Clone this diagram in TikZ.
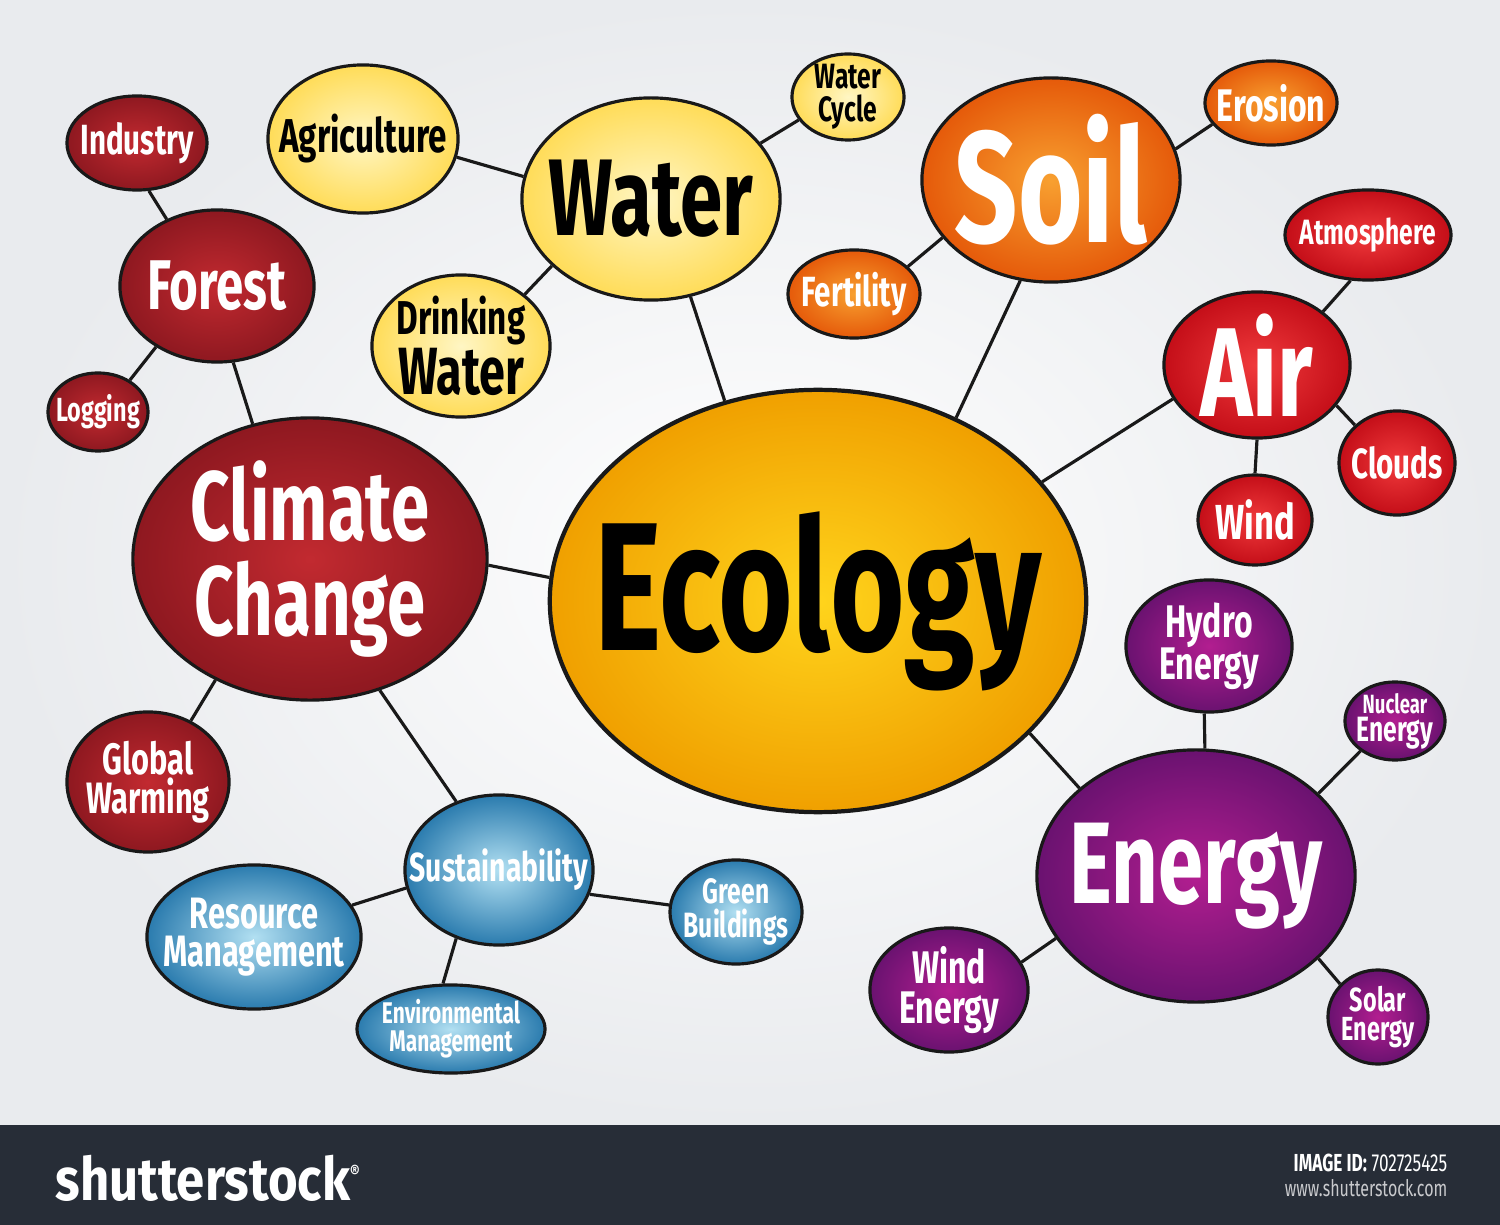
\documentclass[tikz,border=0pt]{standalone}
\usepackage{fontspec}
\usetikzlibrary{shapes.geometric}
\newfontfamily\hand[FakeStretch=0.7]{Fira Sans}
\newfontfamily\logofont[FakeStretch=0.85]{Fira Sans}

\definecolor{crimOut}{HTML}{8E1820}
\definecolor{crimIn}{HTML}{C22A30}
\definecolor{airOut}{HTML}{C40E18}
\definecolor{airIn}{HTML}{F03A3C}
\definecolor{soilOut}{HTML}{E55A0A}
\definecolor{soilIn}{HTML}{F8A030}
\definecolor{waterOut}{HTML}{FFDC58}
\definecolor{waterIn}{HTML}{FFF6C4}
\definecolor{ecoOut}{HTML}{F0A000}
\definecolor{ecoIn}{HTML}{FFD41C}
\definecolor{nrgOut}{HTML}{6A1270}
\definecolor{nrgIn}{HTML}{B21E90}
\definecolor{blueOut}{HTML}{2A7BAE}
\definecolor{blueIn}{HTML}{B2E0F2}
\definecolor{bgEdge}{HTML}{E9EBEE}
\definecolor{footer}{HTML}{272D37}

\newcommand{\fs}[2]{\hand\bfseries\fontsize{#1}{#2}\selectfont}

\tikzset{
  bubble/.style={ellipse, draw=black!90, line width=0.9pt, inner sep=0pt},
  rad/.style 2 args={minimum width=#1*0.02cm, minimum height=#2*0.02cm},
  lbl/.style 2 args={label={[font={#1}, align=center, inner sep=0pt, text=white]center:{#2}}},
  lblk/.style 2 args={label={[font={#1}, align=center, inner sep=0pt, text=black]center:{#2}}},
  crimson/.style={bubble, inner color=crimIn, outer color=crimOut},
  airred/.style={bubble, inner color=airIn, outer color=airOut},
  soilor/.style={bubble, inner color=soilIn, outer color=soilOut},
  wateryl/.style={bubble, inner color=waterIn, outer color=waterOut},
  ecoyl/.style={bubble, inner color=ecoIn, outer color=ecoOut, line width=1.2pt},
  nrgpl/.style={bubble, inner color=nrgIn, outer color=nrgOut},
  bluebl/.style={bubble, inner color=blueIn, outer color=blueOut},
  link/.style={line width=0.9pt, black!90}
}

\begin{document}
\begin{tikzpicture}[x=0.01cm, y=-0.01cm]
\useasboundingbox (0,0) rectangle (1500,1225);
\shade[inner color=white, outer color=bgEdge] (0,0) rectangle (1500,1125);
\fill[footer] (0,1125) rectangle (1500,1225);

% centre
\node[ecoyl, rad={268}{211}, lblk={\fs{52}{52}}{Ecology}] (eco) at (818,601) {};

% climate branch
\node[crimson, rad={177}{141}, lbl={\fs{28}{27}}{Climate\\Change}] (climate) at (310,559) {};
\node[crimson, rad={97}{76}, lbl={\fs{20}{20}}{Forest}] (forest) at (217,286) {};
\node[crimson, rad={70}{47}, lbl={\fs{12}{12}}{Industry}] (industry) at (137,143) {};
\node[crimson, rad={50}{39}, lbl={\fs{9.5}{9.5}}{Logging}] (logging) at (98,412) {};
\node[crimson, rad={81}{70}, lbl={\fs{12.5}{11}}{Global\\Warming}] (global) at (148,782) {};
\node[bluebl, rad={94}{75}, lbl={\fs{11.5}{11.5}}{Sustainability}] (sustain) at (499,870) {};
\node[bluebl, rad={107}{72}, lbl={\fs{12.5}{11}}{Resource\\Management}] (resource) at (254,937) {};
\node[bluebl, rad={94}{44}, lbl={\fs{8.5}{8}}{Environmental\\Management}] (envman) at (451,1029) {};
\node[bluebl, rad={66}{52}, lbl={\fs{10}{9.5}}{Green\\Buildings}] (green) at (736,912) {};

% water branch
\node[wateryl, rad={129}{101}, lblk={\fs{31}{31}}{Water}] (water) at (651,199) {};
\node[wateryl, rad={95}{74}, lblk={\fs{13.5}{13.5}}{Agriculture}] (agri) at (363,139) {};
\node[wateryl, rad={56}{43}, lblk={\fs{10}{9.5}}{Water\\Cycle}] (cycle) at (848,97) {};
\node[wateryl, rad={89}{71}, lblk={\fs{13.5}{13}}{Drinking\\{\fontsize{19}{15}\selectfont Water}}] (drink) at (461,346) {};

% soil branch
\node[soilor, rad={129}{102}, lbl={\fs{45}{45}}{Soil}] (soil) at (1051,180) {};
\node[soilor, rad={66}{42}, lbl={\fs{13}{13}}{Erosion}] (erosion) at (1271,103) {};
\node[soilor, rad={66}{44}, lbl={\fs{12}{12}}{Fertility}] (fertility) at (854,294) {};

% air branch
\node[airred, rad={93}{73}, lbl={\fs{36}{36}}{Air}] (air) at (1257,365) {};
\node[airred, rad={83}{45}, lbl={\fs{10}{10}}{Atmosphere}] (atmos) at (1368,235) {};
\node[airred, rad={58}{52}, lbl={\fs{12}{12}}{Clouds}] (clouds) at (1397,463) {};
\node[airred, rad={57}{45}, lbl={\fs{14}{14}}{Wind}] (wind) at (1255,520) {};

% energy branch
\node[nrgpl, rad={159}{126}, lbl={\fs{33}{33}}{Energy}] (energy) at (1196,876) {};
\node[nrgpl, rad={83}{66}, lbl={\fs{13}{12}}{Hydro\\Energy}] (hydro) at (1209,646) {};
\node[nrgpl, rad={50}{39}, lbl={\fs{7.5}{8}}{Nuclear\\{\fontsize{10}{8}\selectfont Energy}}] (nuclear) at (1395,721) {};
\node[nrgpl, rad={79}{62}, lbl={\fs{13}{11.5}}{Wind\\Energy}] (windnrg) at (949,990) {};
\node[nrgpl, rad={50}{47}, lbl={\fs{9.5}{8.5}}{Solar\\Energy}] (solar) at (1378,1017) {};

% links
\draw[link] (eco.115.6) -- (water.-68.9);
\draw[link] (eco.53.1) -- (soil.253.2);
\draw[link] (eco.28.6) -- (air.202.4);
\draw[link] (eco.-32.5) -- (energy.143.3);
\draw[link] (eco.175) -- (climate.-2);
\draw[link] (climate.113.6) -- (forest.-78.8);
\draw[link] (forest.127) -- (industry.-76.8);
\draw[link] (forest.-135) -- (logging.45);
\draw[link] (climate.232.2) -- (global.55.9);
\draw[link] (climate.-62.9) -- (sustain.122.2);
\draw[link] (sustain.191.2) -- (resource.18.1);
\draw[link] (sustain.238.9) -- (envman.100.3);
\draw[link] (sustain.-15) -- (green.174);
\draw[link] (water.170.5) -- (agri.-11.5);
\draw[link] (water.27.4) -- (cycle.205.6);
\draw[link] (water.214.9) -- (drink.39);
\draw[link] (soil.14.5) -- (erosion.200);
\draw[link] (soil.208.4) -- (fertility.27.4);
\draw[link] (air.39.2) -- (atmos.249.6);
\draw[link] (air.-27) -- (clouds.138.8);
\draw[link] (air.-90) -- (wind.90);
\draw[link] (energy.86) -- (hydro.266.5);
\draw[link] (energy.34.3) -- (nuclear.221.3);
\draw[link] (energy.204.6) -- (windnrg.21.5);
\draw[link] (energy.-34.5) -- (solar.139.9);

% footer
\node[anchor=west, inner sep=0pt, text=white, font={\logofont\bfseries\fontsize{17}{17}\selectfont}] (logo) at (55,1178) {shutterstock\textsuperscript{\tiny\textregistered}};
\node[anchor=east, inner sep=0pt, text=white, font={\hand\fontsize{7}{7}\selectfont}] (imgid) at (1448,1163) {{\bfseries IMAGE ID:} 702725425};
\node[anchor=east, inner sep=0pt, text=white!75!footer, font={\hand\fontsize{6.5}{6.5}\selectfont}] (weburl) at (1448,1188) {www.shutterstock.com};
\end{tikzpicture}
\end{document}
